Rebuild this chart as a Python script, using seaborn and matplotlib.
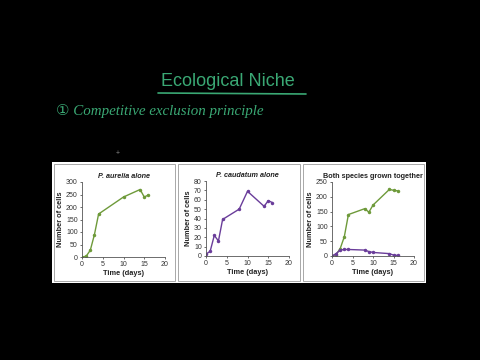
import matplotlib
matplotlib.use("Agg")
import matplotlib.pyplot as plt
import seaborn as sns
import pandas as pd
from matplotlib.patches import Rectangle
from matplotlib.lines import Line2D

sns.set_theme(style="white")
plt.rcParams['font.family'] = ['Liberation Sans', 'DejaVu Sans']

# Data
aurelia_days = [0, 1, 2, 3, 4, 10, 14, 15, 16]
aurelia_cells = [0, 3, 27, 90, 172, 240, 270, 240, 248]

caudatum_days = [0, 1, 2, 3, 4, 8, 10, 14, 15, 16]
caudatum_cells = [2, 5, 22, 16, 39, 50, 69, 53, 59, 57]

both_aur_days = [0, 1, 2, 3, 4, 8, 9, 10, 14, 15, 16]
both_aur_cells = [0, 5, 25, 65, 140, 160, 148, 172, 225, 222, 220]
both_cau_days = [0, 1, 2, 3, 4, 8, 9, 10, 14, 15, 16]
both_cau_cells = [0, 8, 20, 22, 22, 20, 15, 12, 8, 3, 2]

titles = ["P. aurelia alone", "P. caudatum alone", "Both species grown together"]
green = "#6e9a3a"
purple = "#6a3d9a"

fig = plt.figure(figsize=(4.8, 3.6), dpi=100)
fig.patch.set_facecolor("black")

W, H = 480, 360
def fx(px): return px / W
def fy(py): return 1 - py / H

# white panel
fig.patches.append(Rectangle((fx(52), fy(283)), fx(426) - fx(52), fy(162) - fy(283),
                             transform=fig.transFigure, facecolor="white", edgecolor="none", zorder=0))
for x0, x1 in [(54, 175), (178, 300), (303, 424)]:
    fig.patches.append(Rectangle((fx(x0), fy(281)), fx(x1) - fx(x0), fy(164) - fy(281),
                                 transform=fig.transFigure, facecolor="white", edgecolor="#9a9a9a",
                                 linewidth=0.6, zorder=1))

# header
fig.text(fx(228), fy(81), "Ecological Niche", color="#3aa874", fontsize=13, ha="center", va="center")
fig.lines.append(Line2D([fx(158), fx(306)], [fy(93), fy(94)], transform=fig.transFigure,
                        color="#3aa874", linewidth=1.2))
fig.text(fx(56), fy(111), "\u2460 Competitive exclusion principle", color="#3aa874", fontsize=10.8,
         ha="left", va="center", family=["Liberation Serif", "DejaVu Sans"], style="italic")
fig.text(fx(118), fy(154), "+", color="#888888", fontsize=5, ha="center", va="center")

axes_pos = [(82, 165, 182, 257), (206, 289, 181, 256), (332, 414, 182, 256)]
axs = []
for (l, r, t, b) in axes_pos:
    ax = fig.add_axes([fx(l), fy(b), fx(r) - fx(l), fy(t) - fy(b)])
    ax.set_zorder(5)
    axs.append(ax)

df1 = pd.DataFrame({"day": aurelia_days, "cells": aurelia_cells})
df2 = pd.DataFrame({"day": caudatum_days, "cells": caudatum_cells})
df3a = pd.DataFrame({"day": both_aur_days, "cells": both_aur_cells})
df3b = pd.DataFrame({"day": both_cau_days, "cells": both_cau_cells})

kw = dict(x="day", y="cells", marker="o", markersize=2.5, linewidth=1.0, markeredgewidth=0)
sns.lineplot(data=df1, ax=axs[0], color=green, **kw)
sns.lineplot(data=df2, ax=axs[1], color=purple, **kw)
sns.lineplot(data=df3a, ax=axs[2], color=green, **kw)
sns.lineplot(data=df3b, ax=axs[2], color=purple, **kw)

ylims = [(0, 300, 50), (0, 80, 10), (0, 250, 50)]
for ax, title, (y0, y1, st) in zip(axs, titles, ylims):
    ax.set_facecolor("white")
    ax.set_xlim(0, 20)
    ax.set_ylim(y0, y1)
    ax.set_xticks(range(0, 21, 5))
    ax.set_yticks(range(y0, y1 + 1, st))
    for s in ["top", "right"]:
        ax.spines[s].set_visible(False)
    for s in ["left", "bottom"]:
        ax.spines[s].set_color("#555555")
        ax.spines[s].set_linewidth(0.6)
    ax.tick_params(axis="both", labelsize=5, length=1.5, width=0.5, pad=1.5,
                   colors="#333333", left=True, bottom=True, direction="out")
    ax.set_xlabel("Time (days)", fontsize=5.3, fontweight="bold", labelpad=1.5, color="#222222")
    ax.set_ylabel("Number of cells", fontsize=5.3, fontweight="bold", labelpad=1.5, color="#222222")
    style = "italic" if "alone" in title else "normal"
    ax.set_title(title, fontsize=5.2, fontweight="bold", style=style, pad=3, color="#222222")

fig.savefig("out.png", dpi=100, facecolor=fig.get_facecolor())
